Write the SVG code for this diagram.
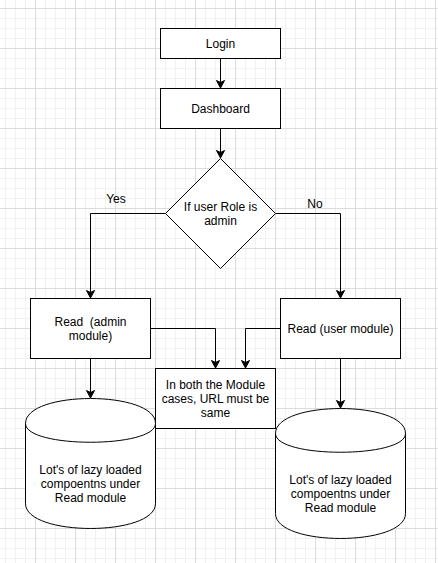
<svg xmlns="http://www.w3.org/2000/svg" width="438" height="563" viewBox="0 0 438 563">
<style>
.box{fill:#fff;stroke:#000;stroke-width:1}
.edge{fill:none;stroke:#000;stroke-width:1}
text{font-family:"Liberation Sans",Arial,sans-serif;font-size:12px;fill:#000;text-anchor:middle}
</style>
<defs>
<pattern id="grid" patternUnits="userSpaceOnUse" x="35" y="8" width="40" height="40">
<path d="M10.5 0V40M20.5 0V40M30.5 0V40M0 10.5H40M0 20.5H40M0 30.5H40" stroke="#f1f1f1" stroke-width="1" fill="none"/>
<path d="M0.5 0V40M0 0.5H40" stroke="#dcdcdc" stroke-width="1" fill="none"/>
</pattern>
<marker id="arr" markerUnits="userSpaceOnUse" viewBox="-8 -5 10 10" refX="0" refY="0" markerWidth="10" markerHeight="10" orient="auto">
<path d="M-7.5 -4 L0 0 L-7.5 4 L-5.5 0 Z" fill="#000" stroke="#000" stroke-width="1"/>
</marker>
</defs>
<rect width="438" height="563" fill="#fff"/>
<rect width="438" height="563" fill="url(#grid)"/>

<g id="connectors">
<path class="edge" d="M220.5 58.5V88" marker-end="url(#arr)"/>
<path class="edge" d="M220.5 128.5V158" marker-end="url(#arr)"/>
<path class="edge" d="M165.5 213.5H90.5V298" marker-end="url(#arr)"/>
<path class="edge" d="M275.5 213.5H340.5V298" marker-end="url(#arr)"/>
<path class="edge" d="M90.5 358.5V398" marker-end="url(#arr)"/>
<path class="edge" d="M340.5 358.5V408" marker-end="url(#arr)"/>
<path class="edge" d="M150.5 328.5H215.5V368" marker-end="url(#arr)"/>
<path class="edge" d="M280.5 328.5H245.5V368" marker-end="url(#arr)"/>
<text x="116" y="202.5">Yes</text>
<text x="315" y="207.5">No</text>
</g>

<g id="login">
<rect class="box" x="160.5" y="28.5" width="120" height="30"/>
<text x="220.5" y="47.7">Login</text>
</g>

<g id="dashboard">
<rect class="box" x="160.5" y="88.5" width="120" height="40"/>
<text x="220.5" y="112.7">Dashboard</text>
</g>

<g id="decision">
<path class="box" d="M220.5 158.5L275.5 213.5L220.5 268.5L165.5 213.5Z"/>
<text x="220.5" y="211">If user Role is</text>
<text x="220.5" y="225">admin</text>
</g>

<g id="read-admin">
<rect class="box" x="30.5" y="298.5" width="120" height="60"/>
<text x="90.5" y="326">Read&#160; (admin</text>
<text x="90.5" y="340">module)</text>
</g>

<g id="read-user">
<rect class="box" x="280.5" y="298.5" width="120" height="60"/>
<text x="340.5" y="333">Read (user module)</text>
</g>

<g id="note">
<rect class="box" x="155.5" y="368.5" width="120" height="60"/>
<text x="215.5" y="389">In both the Module</text>
<text x="215.5" y="403">cases, URL must be</text>
<text x="215.5" y="417">same</text>
</g>

<g id="cyl-admin">
<path class="box" d="M25.5 423.5C25.5 390.2 155.5 390.2 155.5 423.5L155.5 503.5C155.5 536.8 25.5 536.8 25.5 503.5Z"/>
<path class="edge" d="M25.5 423.5C25.5 448.5 155.5 448.5 155.5 423.5"/>
<text x="90.5" y="474.3">Lot's of lazy loaded</text>
<text x="90.5" y="488.3">compoentns under</text>
<text x="90.5" y="502.3">Read module</text>
</g>

<g id="cyl-user">
<path class="box" d="M275.5 433.5C275.5 400.2 405.5 400.2 405.5 433.5L405.5 513.5C405.5 546.8 275.5 546.8 275.5 513.5Z"/>
<path class="edge" d="M275.5 433.5C275.5 458.5 405.5 458.5 405.5 433.5"/>
<text x="340.5" y="484.3">Lot's of lazy loaded</text>
<text x="340.5" y="498.3">compoentns under</text>
<text x="340.5" y="512.3">Read module</text>
</g>
</svg>
